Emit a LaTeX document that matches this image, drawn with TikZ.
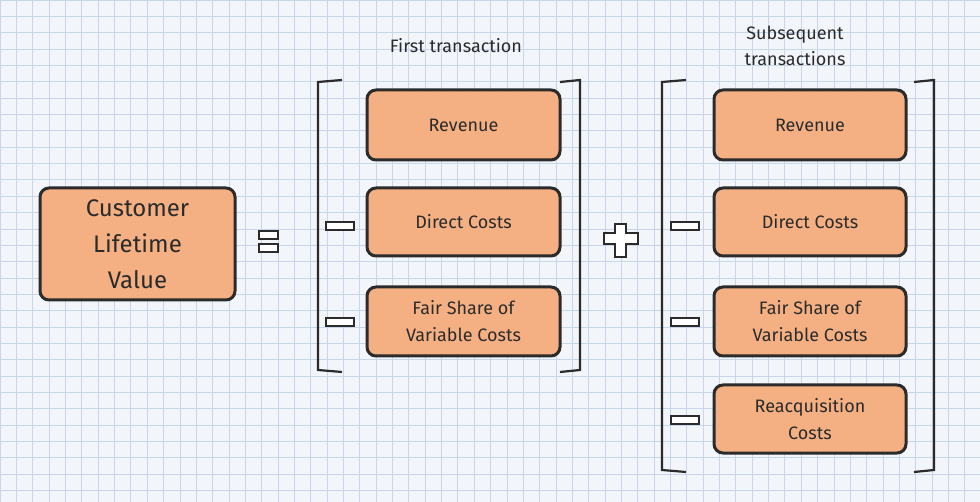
\documentclass[tikz,border=0pt]{standalone}
\usepackage{fontspec}
\setmainfont{Fira Sans}
\definecolor{bg}{HTML}{F2F5FA}
\definecolor{gridc}{HTML}{C9D5E8}
\definecolor{boxf}{HTML}{F4B083}
\definecolor{ink}{HTML}{2B2B2B}
\begin{document}
\begin{tikzpicture}[x=1pt,y=-1pt,
  box/.style={draw=ink,line width=3pt,fill=boxf,rounded corners=9pt,align=center,font=\fontsize{18}{27}\selectfont,text=ink},
  brk/.style={draw=ink,line width=2.2pt},
  sym/.style={draw=ink,line width=2.6pt,fill=white},
  hdr/.style={font=\fontsize{18}{26}\selectfont,text=ink,align=center}]
\fill[bg] (0,0) rectangle (980,502);
\useasboundingbox (0,0) rectangle (980,502);
\foreach \i in {0,...,60} \draw[gridc,line width=0.7pt] (\i*16.35,0) -- (\i*16.35,502);
\foreach \i in {0,...,31} \draw[gridc,line width=0.7pt] (0,\i*16.35) -- (980,\i*16.35);
% CLV
\node[box,minimum width=195,minimum height=112,font=\fontsize{24}{36}\selectfont] (clv) at (137.5,244) {Customer\\Lifetime\\Value};
% column 1
\node[box,minimum width=193,minimum height=70] (r1) at (463.5,125) {Revenue};
\node[box,minimum width=193,minimum height=68] (d1) at (463.5,222) {Direct Costs};
\node[box,minimum width=193,minimum height=69] (f1) at (463.5,321.5) {Fair Share of\\Variable Costs};
% column 2
\node[box,minimum width=192,minimum height=70] (r2) at (810,125) {Revenue};
\node[box,minimum width=192,minimum height=68] (d2) at (810,222) {Direct Costs};
\node[box,minimum width=192,minimum height=69] (f2) at (810,321.5) {Fair Share of\\Variable Costs};
\node[box,minimum width=192,minimum height=68] (q2) at (810,419) {Reacquisition\\Costs};
% headers
\node[hdr] (h1) at (456,46) {First transaction};
\node[hdr] (h2) at (795,46) {Subsequent\\transactions};
% brackets
\draw[brk] (342,80) -- (318,82) -- (318,370) -- (342,372);
\draw[brk] (560,82) -- (580,80) -- (580,370) -- (560,372);
\draw[brk] (686,80) -- (662,82) -- (662,470) -- (686,472);
\draw[brk] (914,82) -- (934,80) -- (934,470) -- (914,472);
% equals
\draw[sym] (259,231) rectangle (278,239);
\draw[sym] (259,244) rectangle (278,252);
% minus signs
\foreach \x/\y in {326/226,326/322,671/226,671/322,671/420}
  \draw[sym] (\x,\y-4) rectangle (\x+28,\y+4);
% plus
\draw[sym] (615,224) -- (626,224) -- (626,233) -- (638,233) -- (638,244) -- (626,244) -- (626,257) -- (615,257) -- (615,244) -- (604,244) -- (604,233) -- (615,233) -- cycle;
\end{tikzpicture}
\end{document}
